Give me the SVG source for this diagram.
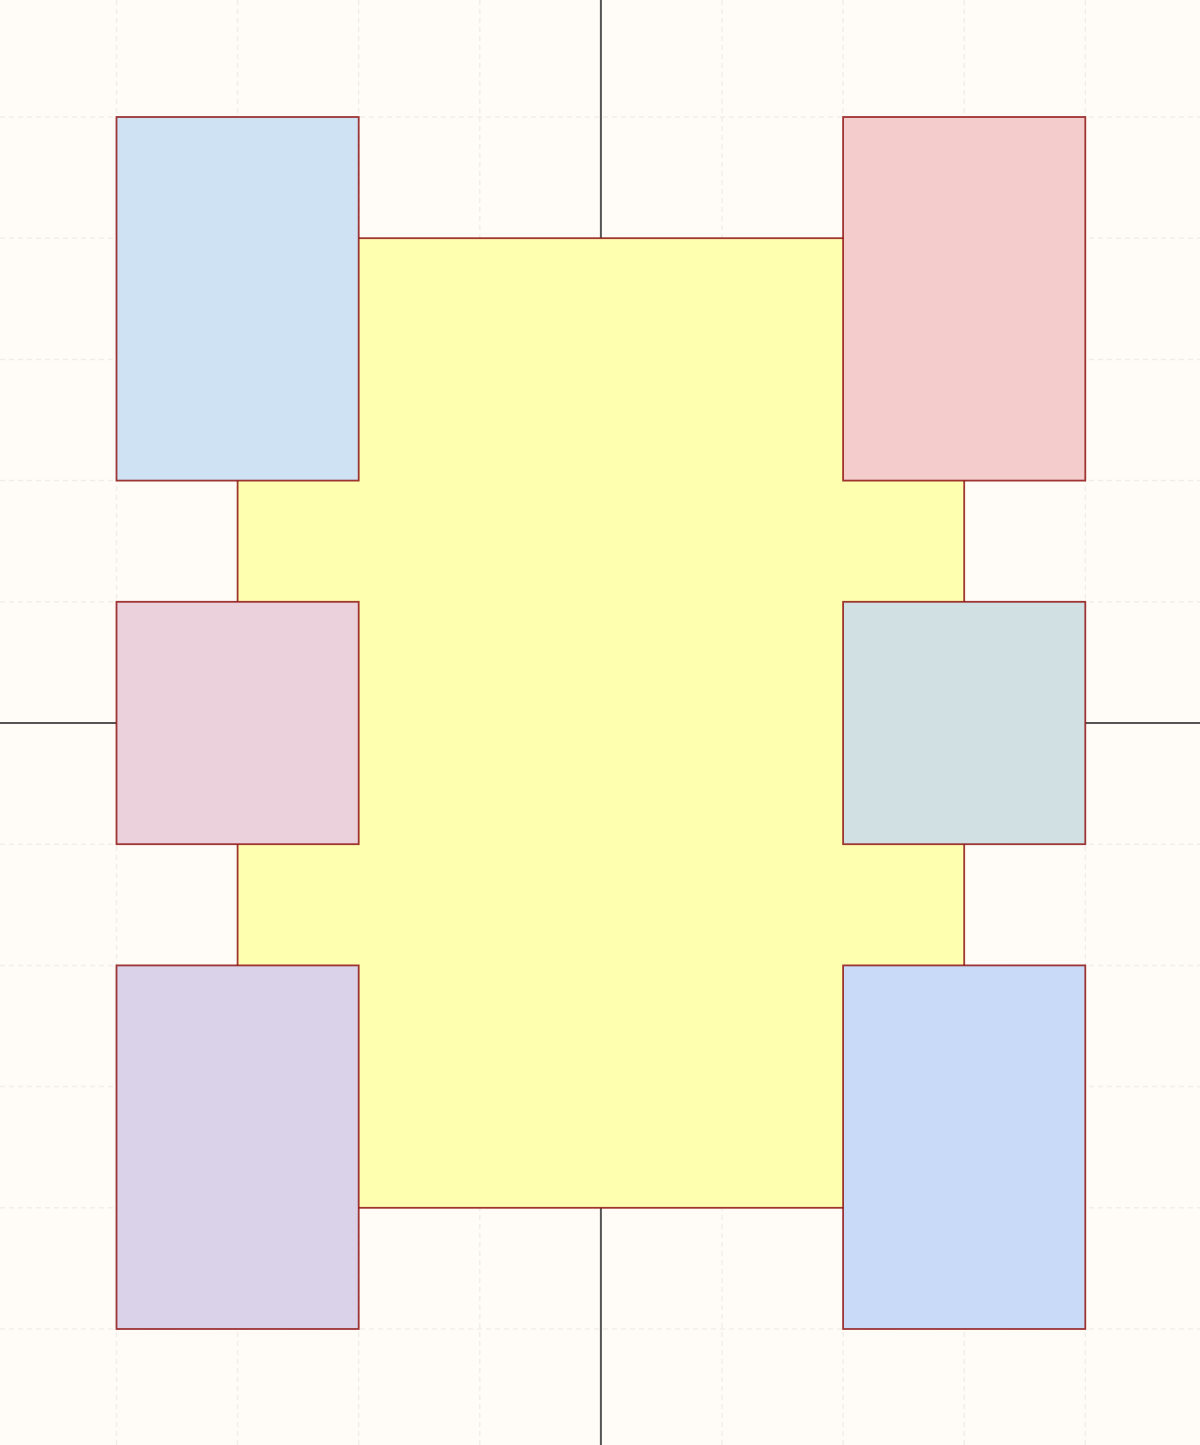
<svg xmlns="http://www.w3.org/2000/svg" width="1200" height="1445" viewBox="0 0 1200 1445">
<style>
.grid{stroke:#f1eee9;stroke-width:1.5;stroke-dasharray:5 4;fill:none}
.axis{stroke:#555;stroke-width:2;fill:none}
.box{stroke:#8f1515;stroke-opacity:0.85;stroke-width:1.8}
</style>
<rect width="1200" height="1445" fill="#fffcf7"/>
<g id="grid">
<path class="grid" d="M116.5 0V1445M237.6 0V1445M358.7 0V1445M479.8 0V1445M722 0V1445M843.1 0V1445M964.2 0V1445M1085.3 0V1445"/>
<path class="grid" d="M0 117H1200M0 238.2H1200M0 359.4H1200M0 480.6H1200M0 601.8H1200M0 844.2H1200M0 965.4H1200M0 1086.6H1200M0 1207.8H1200M0 1329H1200"/>
</g>
<g id="connectors">
<path class="axis" d="M600.9 0V238.2M600.9 1207.8V1445M0 723H116.5M1085.3 723H1200"/>
</g>
<g id="body"><rect class="box" x="237.6" y="238.2" width="726.6" height="969.6" fill="#ffffb0"/></g>
<g id="top-left"><rect class="box" x="116.5" y="117" width="242.2" height="363.6" fill="#cfe2f3"/></g>
<g id="top-right"><rect class="box" x="843.1" y="117" width="242.2" height="363.6" fill="#f4cccc"/></g>
<g id="mid-left"><rect class="box" x="116.5" y="601.8" width="242.2" height="242.4" fill="#ead1dc"/></g>
<g id="mid-right"><rect class="box" x="843.1" y="601.8" width="242.2" height="242.4" fill="#d0e0e3"/></g>
<g id="bottom-left"><rect class="box" x="116.5" y="965.4" width="242.2" height="363.6" fill="#d9d2e9"/></g>
<g id="bottom-right"><rect class="box" x="843.1" y="965.4" width="242.2" height="363.6" fill="#c9daf8"/></g>
</svg>
